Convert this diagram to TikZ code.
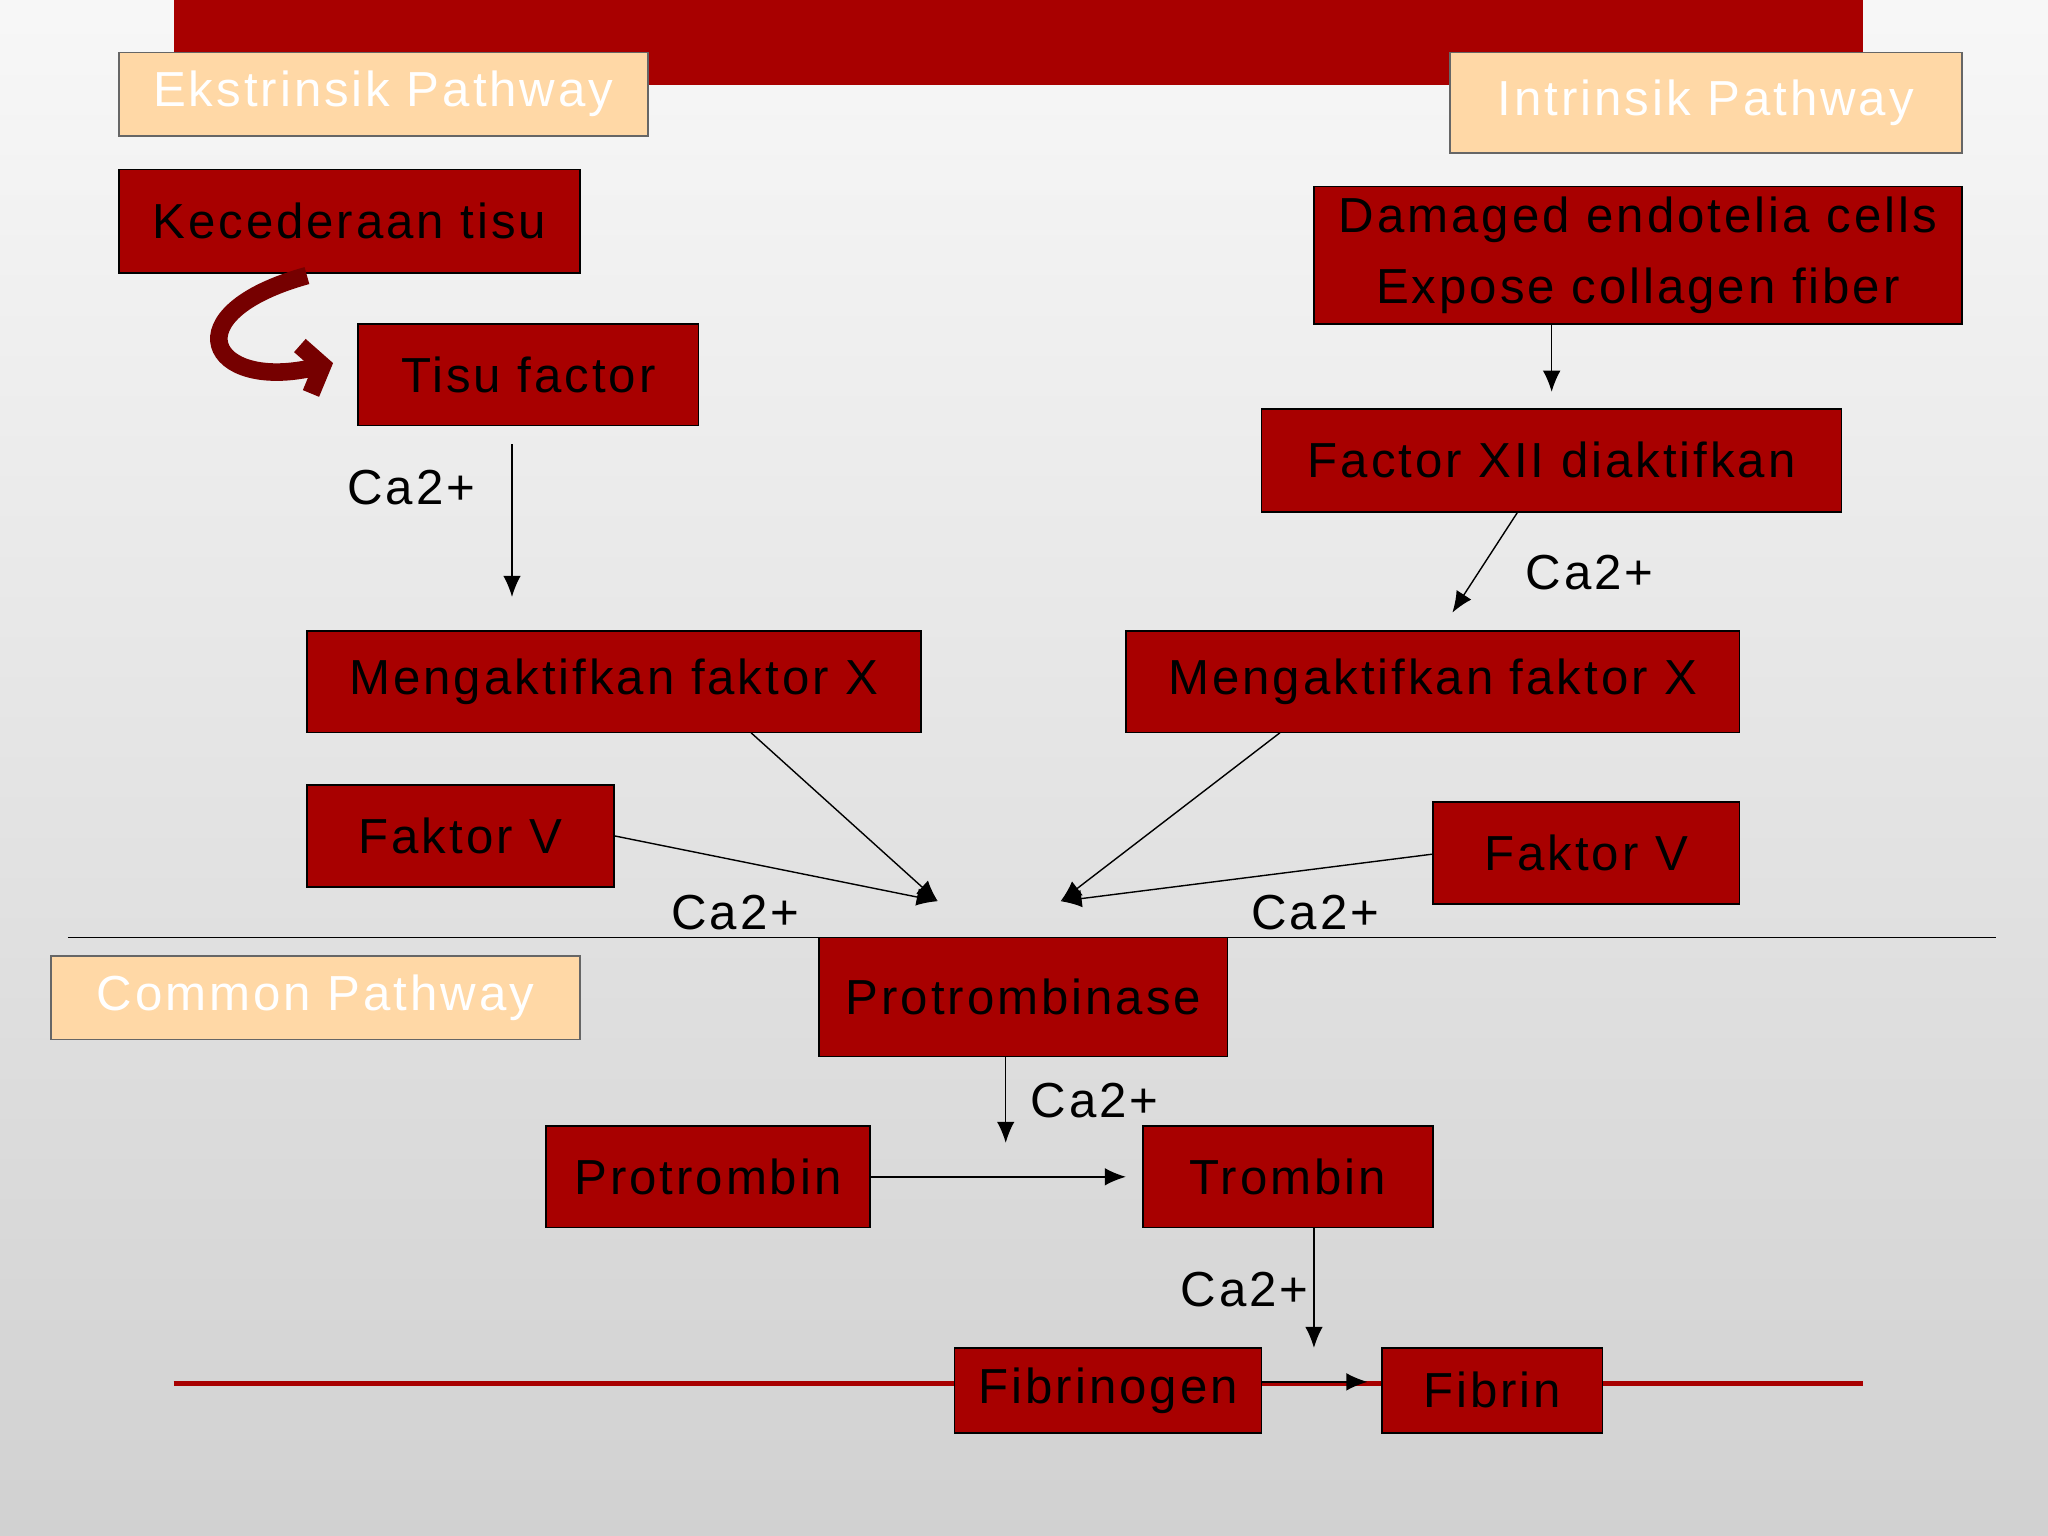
\documentclass[tikz,border=0pt]{standalone}
\usepackage{fontspec}
\setmainfont[LetterSpace=6]{Liberation Sans}
\usetikzlibrary{arrows.meta}
\definecolor{boxred}{HTML}{A80000}
\definecolor{peach}{HTML}{FFD8A6}
\tikzset{
  box/.style={draw=black, fill=boxred, font=\fontsize{14}{17}\selectfont, inner sep=0pt, align=center},
  head/.style={draw=black!60, fill=peach, text=white, font=\fontsize{14}{17}\selectfont, inner sep=0pt},
  ar/.style={-{Latex[length=6pt,width=5pt]}, thin},
  lab/.style={font=\fontsize{14}{17}\selectfont}
}
\def\boxat#1#2#3#4#5#6{ % #1 style, #2 name, #3 x1, #4 y1, #5 x2, #6 y2
  \node[#1, minimum width={(#5-#3)*0.01306cm}, minimum height={(#6-#4)*0.01306cm}] (#2) at ({(#3+#5)/2},{(#4+#6)/2}) {};
}
\begin{document}
\begin{tikzpicture}[x=0.01306cm, y=-0.01306cm]
        \shade[top color=white!97!black, bottom color=black!18] (0,0) rectangle (1568,1176); %hintergrund
        \useasboundingbox (0,0) rectangle (1568,1176);
        \fill[boxred] (133,0) rectangle (1426,65); %balken

        \boxat{head}{ekst}{91}{40}{496}{104};
        \node at (ekst) {\fontsize{14}{17}\selectfont\color{white}Ekstrinsik Pathway};
        \boxat{head}{intr}{1110}{40}{1502}{117};
        \node at (intr) {\fontsize{14}{17}\selectfont\color{white}Intrinsik Pathway};
        \boxat{head}{comm}{39}{732}{444}{796};
        \node at (comm) {\fontsize{14}{17}\selectfont\color{white}Common Pathway};

        \draw (52,718) -- (1528,718); %grenze
        \draw[boxred, line width=1.5pt] (133,1059) -- (1426,1059);

        \boxat{box}{kec}{91}{130}{444}{209};   \node at (kec) {\fontsize{14}{17}\selectfont Kecederaan tisu};
        \boxat{box}{tisu}{274}{248}{535}{326}; \node at (tisu) {\fontsize{14}{17}\selectfont Tisu factor};
        \boxat{box}{dam}{1006}{143}{1502}{248};
        \node[align=center, font=\fontsize{14}{20}\selectfont] at (dam) {Damaged endotelia cells\\Expose collagen fiber};
        \boxat{box}{fxii}{966}{313}{1410}{392}; \node at (fxii) {\fontsize{14}{17}\selectfont Factor XII diaktifkan};
        \boxat{box}{mfl}{235}{483}{705}{561};  \node at (mfl) {\fontsize{14}{17}\selectfont Mengaktifkan faktor X};
        \boxat{box}{mfr}{862}{483}{1332}{561}; \node at (mfr) {\fontsize{14}{17}\selectfont Mengaktifkan faktor X};
        \boxat{box}{fvl}{235}{601}{470}{679};  \node at (fvl) {\fontsize{14}{17}\selectfont Faktor V};
        \boxat{box}{fvr}{1097}{614}{1332}{692}; \node at (fvr) {\fontsize{14}{17}\selectfont Faktor V};
        \boxat{box}{ptase}{627}{718}{940}{809}; \node at (ptase) {\fontsize{14}{17}\selectfont Protrombinase};
        \boxat{box}{ptin}{418}{862}{666}{940}; \node at (ptin) {\fontsize{14}{17}\selectfont Protrombin};
        \boxat{box}{trom}{875}{862}{1097}{940}; \node at (trom) {\fontsize{14}{17}\selectfont Trombin};
        \boxat{box}{fgen}{731}{1032}{966}{1097}; \node at (fgen) {\fontsize{14}{17}\selectfont Fibrinogen};
        \boxat{box}{fib}{1058}{1032}{1227}{1097}; \node at (fib) {\fontsize{14}{17}\selectfont Fibrin};

        % gebogener pfeil
        \draw[boxred!70!black, line width=5pt, -{Straight Barb[length=5pt,width=14pt]}] (235,211) .. controls (130,240) and (160,300) .. (255,278);

        % pfeile
        \coordinate (t1) at (392,340); \coordinate (t2) at (392,457);
        \draw[ar] (t1) -- (t2);
        \node[lab] at (315,373) {Ca2+};
        \coordinate (d2) at (1188,300);
        \draw[ar] (dam.south -| d2) -- (d2);
        \coordinate (x1) at (1162,392); \coordinate (x2) at (1112,469);
        \draw[ar] (x1) -- (x2);
        \node[lab] at (1217,438) {Ca2+};
        \coordinate (jl) at (718,690); \coordinate (jr) at (812,690);
        \draw[ar] (575,561) -- (jl);
        \draw[ar] (fvl.east |- 0,640) -- (jl);
        \draw[ar] (980,561) -- (jr);
        \draw[ar] (fvr.west |- 0,654) -- (jr);
        \node[lab] at (563,699) {Ca2+};
        \node[lab] at (1007,699) {Ca2+};
        \coordinate (p2) at (770,875);
        \draw[ar] (ptase.south -| p2) -- (p2);
        \node[lab] at (838,843) {Ca2+};
        \coordinate (p3) at (862,901);
        \draw[ar] (ptin.east) -- (p3);
        \coordinate (tr) at (1006,1032);
        \draw[ar] (trom.south -| tr) -- (tr);
        \node[lab] at (953,987) {Ca2+};
        \coordinate (fg) at (1047,1058);
        \draw[ar] (fgen.east |- fg) -- (fg);
\end{tikzpicture}
\end{document}
